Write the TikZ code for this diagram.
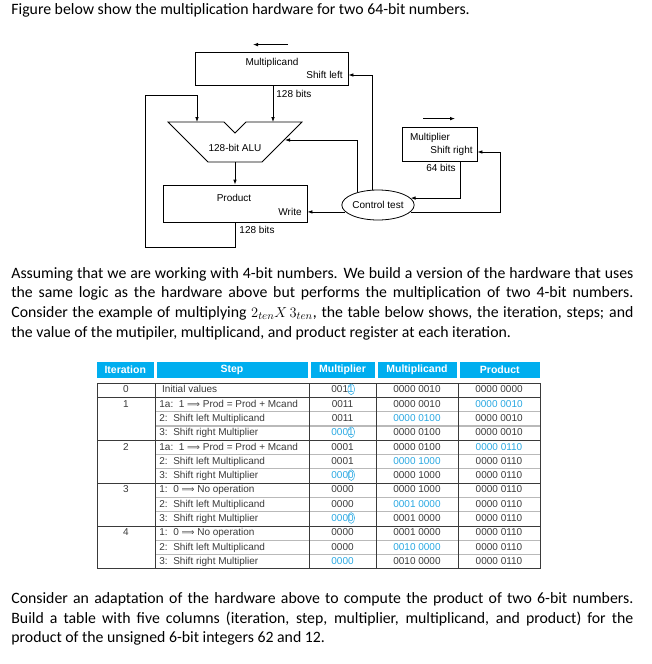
\documentclass[tikz,border=0pt]{standalone}
\usepackage{amsmath}
\usepackage{fontspec}
\setmainfont{Carlito}
\newfontfamily\arialfont{Liberation Sans}
\newfontfamily\symfont{DejaVu Sans}
\usepackage{xcolor}
\usetikzlibrary{arrows.meta, positioning, shapes.geometric}
\definecolor{tblue}{RGB}{0,174,239}
\definecolor{hiblue}{RGB}{41,168,226}
\definecolor{tgray}{RGB}{58,58,58}
\newcommand{\hb}[1]{\textcolor{hiblue}{#1}}
\newcommand{\implarrow}{{\symfont\fontsize{9}{12}\selectfont ⟹}}

\begin{document}
\begin{tikzpicture}[x=1pt, y=-1pt, >={Latex[length=5pt, width=3.6pt]}, line width=0.8pt,
    reg/.style={draw, inner sep=0},
    lbl/.style={font=\arialfont\fontsize{10}{12}\selectfont, inner sep=0},
    cell/.style={font=\arialfont\fontsize{10}{12}\selectfont, text=tgray, inner sep=0, text height=7.2pt, text depth=2pt},
    head/.style={fill=tblue, text=white, font=\arialfont\bfseries\fontsize{10.5}{12}\selectfont, inner sep=0, minimum height=16pt},
    para/.style={text width=622pt, align=justify, inner sep=0, font=\fontsize{15.8}{19.7}\selectfont, anchor=base west},
    tline/.style={draw=tgray, line width=0.9pt},
    tinner/.style={draw=gray!55, line width=1.3pt}]
    \useasboundingbox (0,0) rectangle (652,664);

    % Texts
    \node[inner sep=0, font=\fontsize{15.8}{19.7}\selectfont, anchor=base west] (title) at (11,14) {Figure below show the multiplication hardware for two 64-bit numbers.};
    \node[para] (ask) at (11,278) {Assuming that we are working with 4-bit numbers. We build a version of the hardware that uses\linebreak
        the same logic as the hardware above but performs the multiplication of two 4-bit numbers.\linebreak
        Consider the example of multiplying $2_{ten}X\,3_{ten}$, the table below shows, the iteration, steps; and\linebreak
        the value of the mutipiler, multiplicand, and product register at each iteration.};
    \node[para] (task) at (11,603.3) {Consider an adaptation of the hardware above to compute the product of two 6-bit numbers.\linebreak
        Build a table with five columns (iteration, step, multiplier, multiplicand, and product) for the\linebreak
        product of the unsigned 6-bit integers 62 and 12.};

    % Registers
    \node[reg, minimum width=153pt, minimum height=33pt] (mcand) at (271.5,68.5) {};
    \node[lbl] (mcandname) at (272,63) {Multiplicand};
    \node[lbl, anchor=east] (shl) at (343,75) {Shift left};
    \node[reg, minimum width=144pt, minimum height=37pt] (prod) at (235,203.5) {};
    \node[lbl] (prodname) at (234,198) {Product};
    \node[lbl, anchor=east] (wr) at (302,212) {Write};
    \node[reg, minimum width=75pt, minimum height=34pt] (mplier) at (439.5,144) {};
    \node[lbl] (mpliername) at (430,138) {Multiplier};
    \node[lbl, anchor=east] (shr) at (473,151) {Shift right};
    \node[draw, ellipse, lbl, minimum width=72pt, minimum height=30pt] (ctrl) at (378,205) {Control test};

    % ALU
    \draw (168,122) -- (224,122) -- (235,133) -- (246,122) -- (302,122) -- (262,162) -- (208,162) -- cycle;
    \node[lbl] (aluname) at (235,148) {128-bit ALU};
    \coordinate (aluA) at (197,122);
    \coordinate (aluB) at (273,122);
    \coordinate (aluC) at (285,140);
    \coordinate (aluout) at (235,162);

    % Bit widths
    \node[lbl, anchor=west] (w1) at (276,94) {128 bits};
    \node[lbl] (w2) at (441,168) {64 bits};
    \node[lbl] (w3) at (257,230) {128 bits};

    % Arrows
    \draw[->] (mcand.south -| aluB) -- (aluB);
    \draw[->] (aluout) -- (aluout |- prod.north);
    \draw[->] (prod.south) -- ++(0,25) -| (145,95) -| (aluA);
    \draw[->] (ctrl.192) -- (ctrl.192 -| prod.east);
    \draw[->] (ctrl.148) |- (aluC);
    \draw[->] (ctrl.109) |- ([yshift=-6.5pt]mcand.east);
    \draw[->] ([xshift=20.5pt]mplier.south) |- (ctrl.12);
    \draw[->] (ctrl.348) -- ++(90,0) |- ([yshift=-8pt]mplier.east);
    \draw[->] ([xshift=16.5pt, yshift=7pt]mcand.north) -- ++(-35,0);
    \draw[->] ([xshift=-16.5pt, yshift=8pt]mplier.north) -- ++(32,0);

    % Table header
    \node[head, minimum width=56.5pt] (hiter) at (125.25,370) {Iteration};
    \node[head, minimum width=151pt] (hstep) at (232,370) {Step};
    \node[head, minimum width=64pt] (hmr) at (342.5,370) {Multiplier};
    \node[head, minimum width=79pt] (hmd) at (417,370) {Multiplicand};
    \node[head, minimum width=80.5pt] (hpr) at (499.75,370) {Product};

    % Table rules
    \foreach \k in {2,3,5,6,8,9,11,12}
        \draw[tinner] (155,383+14.3*\k) -- (540,383+14.3*\k);
    \foreach \k in {1,4,7,10}
        \draw[tline] (97,383+14.3*\k) -- (540,383+14.3*\k);
    \foreach \x in {155,309,376,458}
        \draw[tline] (\x,383) -- (\x,568.9);
    \draw[tline] (97,383) rectangle (540,568.9);

    % Table rows
    \foreach \n/\i in {0/0,1/1,2/4,3/7,4/10}
        \node[cell] (it\n) at (126,390.2+14.3*\i) {\n};
    \foreach \i/\st/\mr/\md/\pr in {
        0/{\ Initial values}/{001\hb{1}}/{0000 0010}/{0000 0000},
        1/{1a:\ \ 1 \implarrow\ Prod = Prod + Mcand}/{0011}/{0000 0010}/{\hb{0000 0010}},
        2/{2:\ \ Shift left Multiplicand}/{0011}/{\hb{0000 0100}}/{0000 0010},
        3/{3:\ \ Shift right Multiplier}/{\hb{0001}}/{0000 0100}/{0000 0010},
        4/{1a:\ \ 1 \implarrow\ Prod = Prod + Mcand}/{0001}/{0000 0100}/{\hb{0000 0110}},
        5/{2:\ \ Shift left Multiplicand}/{0001}/{\hb{0000 1000}}/{0000 0110},
        6/{3:\ \ Shift right Multiplier}/{\hb{0000}}/{0000 1000}/{0000 0110},
        7/{1:\ \ 0 \implarrow\ No operation}/{0000}/{0000 1000}/{0000 0110},
        8/{2:\ \ Shift left Multiplicand}/{0000}/{\hb{0001 0000}}/{0000 0110},
        9/{3:\ \ Shift right Multiplier}/{\hb{0000}}/{0001 0000}/{0000 0110},
        10/{1:\ \ 0 \implarrow\ No operation}/{0000}/{0001 0000}/{0000 0110},
        11/{2:\ \ Shift left Multiplicand}/{0000}/{\hb{0010 0000}}/{0000 0110},
        12/{3:\ \ Shift right Multiplier}/{\hb{0000}}/{0010 0000}/{0000 0110}}
    {
        \node[cell, anchor=west] (st\i) at (159,390.2+14.3*\i) {\st};
        \node[cell] (mr\i) at (342.5,390.2+14.3*\i) {\mr};
        \node[cell] (md\i) at (417,390.2+14.3*\i) {\md};
        \node[cell] (pr\i) at (499,390.2+14.3*\i) {\pr};
    }
    % Circled bits
    \foreach \i in {0,3,6,9}
        \draw[hiblue, line width=0.5pt] ([xshift=-2.8pt, yshift=0.9pt]mr\i.east) ellipse (3.4pt and 5.4pt);
\end{tikzpicture}
\end{document}
